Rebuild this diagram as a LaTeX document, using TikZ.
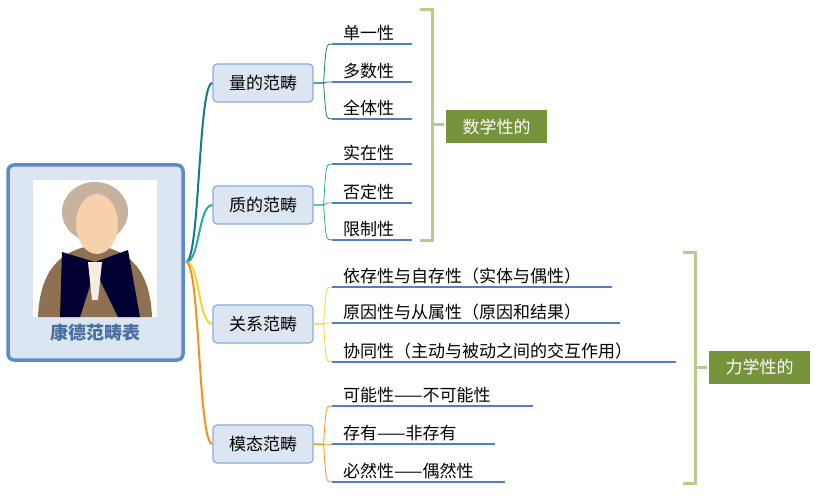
\documentclass[tikz,border=0pt]{standalone}
\usepackage{fontspec}
\setmainfont{Noto Sans CJK SC}
\usepackage{xcolor}
\definecolor{rootfill}{HTML}{DCE6F2}
\definecolor{rootline}{HTML}{5B8BCB}
\definecolor{boxline}{HTML}{8EAADB}
\definecolor{leafline}{HTML}{4F7FC7}
\definecolor{olive}{HTML}{77933C}
\definecolor{bracket}{HTML}{B5CC8E}
\definecolor{tealA}{HTML}{177A85}
\definecolor{tealB}{HTML}{2BAA9A}
\definecolor{sun}{HTML}{F2D432}
\definecolor{amber}{HTML}{F0921E}
\usetikzlibrary{arrows.meta, positioning, calc}
\tikzset{
  branch/.style={draw=boxline, fill=rootfill, rounded corners=4pt, line width=1.2pt,
    minimum width=100pt, minimum height=38pt, font=\fontsize{17}{20}\selectfont},
  leaf/.style={anchor=south west, inner sep=3pt, font=\fontsize{17}{20}\selectfont},
  tag/.style={fill=olive, text=white, minimum width=101pt, minimum height=33pt,
    font=\fontsize{17}{20}\selectfont\itshape},
}
\begin{document}
\begin{tikzpicture}[x=1pt, y=-1pt]
  \useasboundingbox (0,0) rectangle (817,500);

  % root with portrait
  \draw[rootline, fill=rootfill, line width=3.5pt, rounded corners=6pt] (8,165) rectangle (183,360);
  \fill[white] (33,180) rectangle (157,317);
  \fill[brown!60!black!80] (38,317) .. controls (40,270) and (60,250) .. (95,245)
    .. controls (130,250) and (150,270) .. (152,317) -- cycle;
  \fill[black!80!blue] (62,252) -- (95,262) -- (128,250) -- (140,317) -- (118,317) -- (95,270) -- (80,317) -- (60,317) -- cycle;
  \fill[white!85!brown] (88,262) -- (102,262) -- (98,300) -- (92,300) -- cycle;
  \fill[gray!50!brown!60] (95,212) ellipse (33pt and 30pt);
  \fill[orange!25!white!85!brown] (97,224) ellipse (21pt and 30pt);
  \node[font=\fontsize{18}{20}\selectfont\bfseries, text=rootline!80!black] (root) at (95,333) {康德范畴表};
  \coordinate (hub) at (186,262);

  % branches
  \node[branch] (qty) at (263,83) {量的范畴};
  \node[branch] (qual) at (263,205) {质的范畴};
  \node[branch] (rel) at (263,324) {关系范畴};
  \node[branch] (mod) at (263,444) {模态范畴};
  \foreach \b/\c in {qty/tealA, qual/tealB, rel/sun, mod/amber}
    \draw[\c, line width=2pt] (hub) .. controls (200,262) and (198,0|-\b.west) .. (\b.west);

  % leaves
  \foreach \b/\y/\e/\t/\c in {
      qty/44/412/单一性/tealA, qty/82/412/多数性/tealA, qty/119/412/全体性/tealA,
      qual/164/412/实在性/tealB, qual/203/412/否定性/tealB, qual/240/412/限制性/tealB,
      rel/287/612/依存性与自存性（实体与偶性）/sun, rel/323/620/原因性与从属性（原因和结果）/sun,
      rel/362/676/协同性（主动与被动之间的交互作用）/sun,
      mod/406/533/可能性——不可能性/amber, mod/444/495/存有——非存有/amber, mod/482/505/必然性——偶然性/amber} {
    \node[leaf] (l\y) at (340,\y) {\t};
    \draw[leafline, line width=2pt] (332,\y) -- (\e,\y);
    \draw[\c, line width=0.8pt] (\b.east) -- ++(10,0) .. controls (326,\y) .. (332,\y);
  }

  % groups
  \draw[bracket, line width=3pt] (420,10) -- (432,10) -- (432,240) -- (420,240)
    (432,125) -- (444,125);
  \node[tag, anchor=west] (math) at (446,127) {数学性的};
  \draw[bracket, line width=3pt] (683,252) -- (695,252) -- (695,483) -- (683,483)
    (695,367) -- (707,367);
  \node[tag, anchor=west] (dyn) at (709,367) {力学性的};
\end{tikzpicture}
\end{document}
